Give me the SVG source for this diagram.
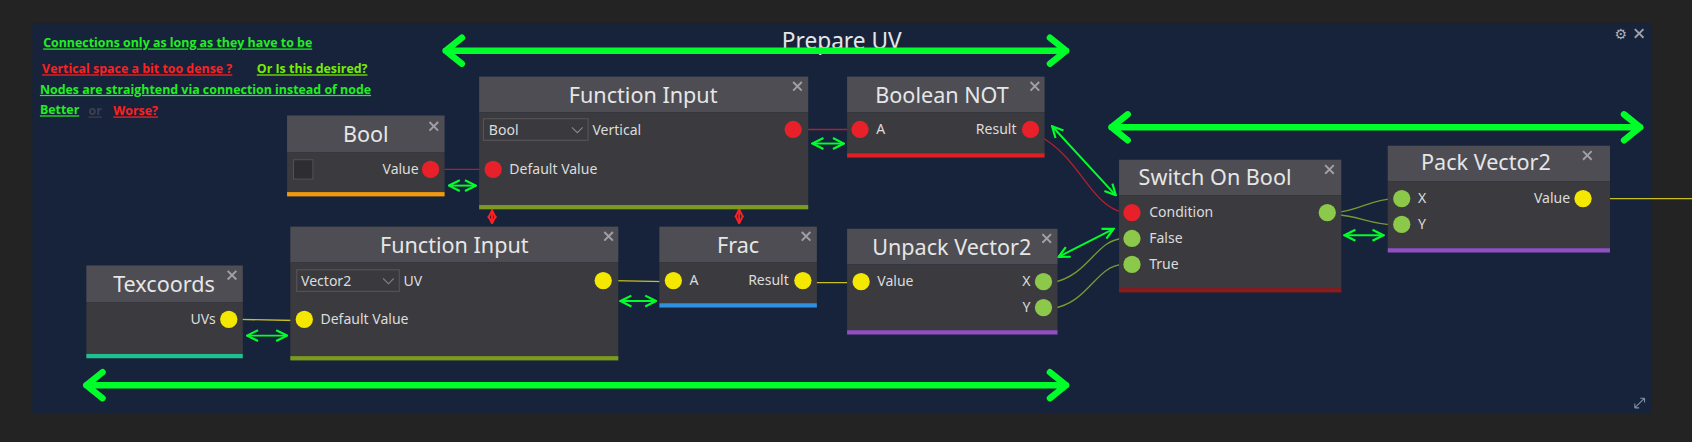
<svg xmlns="http://www.w3.org/2000/svg" width="1692" height="442" viewBox="0 0 1692 442">
<defs>
<style>
.hd{fill:#4d4d53}.bd{fill:#3b3b3f}
.tt{font-family:"Noto Sans",sans-serif;font-size:20px;fill:#e6e6e6;text-anchor:middle}
.lb{font-family:"Noto Sans",sans-serif;font-size:13px;fill:#dcdcdc}
.r{text-anchor:end}
.x{stroke:#a0a0a6;stroke-width:1.8}
.an{font-family:"Open Sans","Liberation Sans",sans-serif;font-size:11.5px;font-weight:bold;text-decoration:underline}
.big{stroke:#00ff2a;stroke-width:6;fill:none;stroke-linecap:round;stroke-linejoin:round}
.sm{stroke:#00ff2a;stroke-width:1.8;fill:none}
.rs{stroke:#ff2020;stroke-width:1.8;fill:none}
.pr{fill:#e8202a}.py{fill:#f5e800}.pg{fill:#8cc84a}
.dd{fill:#3a3a3e;stroke:#55555a}
</style>
<marker id="ga" viewBox="0 0 10 10" refX="9" refY="5" markerWidth="7" markerHeight="7" orient="auto-start-reverse"><path d="M1,1 L9,5 L1,9" fill="none" stroke="#00ff2a" stroke-width="1.6"/></marker>
<marker id="ra" viewBox="0 0 10 10" refX="9" refY="5" markerWidth="5" markerHeight="5" orient="auto-start-reverse"><path d="M1,1 L9,5 L1,9" fill="none" stroke="#ff2020" stroke-width="2"/></marker>
</defs>
<rect width="1692" height="442" fill="#232323"/>
<g transform="scale(1.0791)">
<rect x="30" y="22" width="1500" height="361" fill="#16233b"/>
<g id="annotations">
<text class="an" x="40" y="44" fill="#22ee22">Connections only as long as they have to be</text>
<text class="an" x="39" y="68" fill="#ff2020">Vertical space a bit too dense ?</text>
<text class="an" x="238" y="68" fill="#77ee00">Or Is this desired?</text>
<text class="an" x="37" y="87" fill="#22ee22">Nodes are straightend via connection instead of node</text>
<text class="an" x="37" y="106" fill="#22ee22">Better</text>
<text class="an" x="82" y="107" fill="#3c4150">or</text>
<text class="an" x="105" y="107" fill="#ff2020">Worse?</text>
<text x="780" y="45" font-family="Noto Sans,sans-serif" font-size="21" fill="#e6e6e6" text-anchor="middle">Prepare UV</text>
<text x="1502" y="36" font-family="DejaVu Sans,sans-serif" font-size="13" fill="#b0b0b8" text-anchor="middle">⚙</text>
<path class="x" d="M1515,27 l8,8 M1523,27 l-8,8"/>
<path d="M1515,378 l9,-9 M1515,378 v-4 M1515,378 h4 M1524,369 h-4 M1524,369 v4" stroke="#8090a0" stroke-width="1" fill="none"/>
</g>
<g id="connectors">
<path d="M412,157 L449,157" stroke="#b02030" stroke-width="1.2" fill="none"/>
<path d="M744,120 L789,120" stroke="#b02030" stroke-width="1.2" fill="none"/>
<path d="M963,126 C1000,145 1010,190 1041,197" stroke="#b02030" stroke-width="1.2" fill="none"/>
<path d="M221,296 L274,297" stroke="#c8c020" stroke-width="1.2" fill="none"/>
<path d="M568,260 L616,261" stroke="#c8c020" stroke-width="1.2" fill="none"/>
<path d="M752,262 L790,262" stroke="#c8c020" stroke-width="1.2" fill="none"/>
<path d="M1476,184 L1568,184" stroke="#c8c020" stroke-width="1.2" fill="none"/>
<path d="M975,262 C1010,255 1015,222 1041,221" stroke="#7a9a30" stroke-width="1.2" fill="none"/>
<path d="M975,286 C1010,280 1015,246 1041,245" stroke="#7a9a30" stroke-width="1.2" fill="none"/>
<path d="M1238,197 C1260,195 1270,185 1291,184 M1238,199 C1260,200 1270,208 1291,208" stroke="#7a9a30" stroke-width="1.2" fill="none"/>
<path class="big" d="M413,47 H988 M428,35 L413,47 L428,59 M973,35 L988,47 L973,59"/>
<path class="big" d="M1030,118 H1520 M1045,106 L1030,118 L1045,130 M1505,106 L1520,118 L1505,130"/>
<path class="big" d="M80,357 H988 M95,345 L80,357 L95,369 M973,345 L988,357 L973,369"/>
<path class="sm" d="M416,172 H441" marker-start="url(#ga)" marker-end="url(#ga)"/>
<path class="sm" d="M753,133 H782" marker-start="url(#ga)" marker-end="url(#ga)"/>
<path class="sm" d="M575,279 H608" marker-start="url(#ga)" marker-end="url(#ga)"/>
<path class="sm" d="M229,311 H266" marker-start="url(#ga)" marker-end="url(#ga)"/>
<path class="sm" d="M1246,218 H1282" marker-start="url(#ga)" marker-end="url(#ga)"/>
<path class="sm" d="M981,238 L1032,212" marker-start="url(#ga)" marker-end="url(#ga)"/>
<path class="sm" d="M975,117 L1034,181" marker-start="url(#ga)" marker-end="url(#ga)"/>
<path class="rs" d="M456,195 V207" marker-start="url(#ra)" marker-end="url(#ra)"/>
<path class="rs" d="M685,194 V207" marker-start="url(#ra)" marker-end="url(#ra)"/>
</g>
<g id="bool">
<rect class="hd" x="266" y="107" width="146" height="34"/><rect class="bd" x="266" y="141" width="146" height="37"/><rect x="266" y="178" width="146" height="4" fill="#f09a10"/>
<text class="tt" x="339" y="132">Bool</text><path class="x" d="M398,113 l8,8 M406,113 l-8,8"/>
<rect x="272" y="148" width="18" height="18" fill="#2e2e32" stroke="#505055"/>
<text class="lb r" x="388" y="161">Value</text><circle class="pr" cx="399" cy="157" r="8"/>
</g>
<g id="function-input-1">
<rect class="hd" x="444" y="71" width="305" height="33"/><rect class="bd" x="444" y="104" width="305" height="86"/><rect x="444" y="190" width="305" height="4" fill="#7a9a20"/>
<text class="tt" x="596" y="95">Function Input</text><path class="x" d="M735,76 l8,8 M743,76 l-8,8"/>
<rect class="dd" x="448" y="110" width="97" height="20"/><text class="lb" x="453" y="125">Bool</text><path d="M530,118 l5,5 l5,-5" stroke="#888" fill="none"/>
<text class="lb" x="549" y="125">Vertical</text><circle class="pr" cx="735" cy="120" r="8"/>
<circle class="pr" cx="457" cy="157" r="8"/><text class="lb" x="472" y="161">Default Value</text>
</g>
<g id="boolean-not">
<rect class="hd" x="785" y="71" width="183" height="33"/><rect class="bd" x="785" y="104" width="183" height="38"/><rect x="785" y="142" width="183" height="4" fill="#e02020"/>
<text class="tt" x="873" y="95">Boolean NOT</text><path class="x" d="M955,76 l8,8 M963,76 l-8,8"/>
<circle class="pr" cx="797" cy="120" r="8"/><text class="lb" x="812" y="124">A</text>
<text class="lb r" x="942" y="124">Result</text><circle class="pr" cx="955" cy="120" r="8"/>
</g>
<g id="function-input-2">
<rect class="hd" x="269" y="210" width="304" height="33"/><rect class="bd" x="269" y="243" width="304" height="87"/><rect x="269" y="330" width="304" height="4" fill="#7a9a20"/>
<text class="tt" x="421" y="234">Function Input</text><path class="x" d="M560,215 l8,8 M568,215 l-8,8"/>
<rect class="dd" x="275" y="250" width="95" height="20"/><text class="lb" x="279" y="265">Vector2</text><path d="M355,258 l5,5 l5,-5" stroke="#888" fill="none"/>
<text class="lb" x="374" y="265">UV</text><circle class="py" cx="559" cy="260" r="8"/>
<circle class="py" cx="282" cy="296" r="8"/><text class="lb" x="297" y="300">Default Value</text>
</g>
<g id="texcoords">
<rect class="hd" x="80" y="246" width="145" height="34"/><rect class="bd" x="80" y="280" width="145" height="48"/><rect x="80" y="328" width="145" height="4" fill="#20c090"/>
<text class="tt" x="152" y="271">Texcoords</text><path class="x" d="M211,251 l8,8 M219,251 l-8,8"/>
<text class="lb r" x="200" y="300">UVs</text><circle class="py" cx="212" cy="296" r="8"/>
</g>
<g id="frac">
<rect class="hd" x="611" y="210" width="146" height="33"/><rect class="bd" x="611" y="243" width="146" height="38"/><rect x="611" y="281" width="146" height="4" fill="#3090e0"/>
<text class="tt" x="684" y="234">Frac</text><path class="x" d="M743,215 l8,8 M751,215 l-8,8"/>
<circle class="py" cx="624" cy="260" r="8"/><text class="lb" x="639" y="264">A</text>
<text class="lb r" x="731" y="264">Result</text><circle class="py" cx="744" cy="260" r="8"/>
</g>
<g id="unpack-vector2">
<rect class="hd" x="785" y="212" width="195" height="33"/><rect class="bd" x="785" y="245" width="195" height="61"/><rect x="785" y="306" width="195" height="4" fill="#9050c0"/>
<text class="tt" x="882" y="236">Unpack Vector2</text><path class="x" d="M966,217 l8,8 M974,217 l-8,8"/>
<circle class="py" cx="798" cy="261" r="8"/><text class="lb" x="813" y="265">Value</text>
<text class="lb r" x="955" y="265">X</text><circle class="pg" cx="967" cy="261" r="8"/>
<text class="lb r" x="955" y="289">Y</text><circle class="pg" cx="967" cy="285" r="8"/>
</g>
<g id="switch-on-bool">
<rect class="hd" x="1037" y="148" width="206" height="33"/><rect class="bd" x="1037" y="181" width="206" height="86"/><rect x="1037" y="267" width="206" height="4" fill="#8a1c1c"/>
<text class="tt" x="1126" y="171">Switch On Bool</text><path class="x" d="M1228,153 l8,8 M1236,153 l-8,8"/>
<circle class="pr" cx="1049" cy="197" r="8"/><text class="lb" x="1065" y="201">Condition</text>
<circle class="pg" cx="1049" cy="221" r="8"/><text class="lb" x="1065" y="225">False</text>
<circle class="pg" cx="1049" cy="245" r="8"/><text class="lb" x="1065" y="249">True</text>
<circle class="pg" cx="1230" cy="197" r="8"/>
</g>
<g id="pack-vector2">
<rect class="hd" x="1286" y="135" width="206" height="33"/><rect class="bd" x="1286" y="168" width="206" height="62"/><rect x="1286" y="230" width="206" height="4" fill="#9050c0"/>
<text class="tt" x="1377" y="158">Pack Vector2</text><path class="x" d="M1467,140 l8,8 M1475,140 l-8,8"/>
<circle class="pg" cx="1299" cy="184" r="8"/><text class="lb" x="1314" y="188">X</text>
<circle class="pg" cx="1299" cy="208" r="8"/><text class="lb" x="1314" y="212">Y</text>
<text class="lb r" x="1455" y="188">Value</text><circle class="py" cx="1467" cy="184" r="8"/>
</g>
</g>
</svg>
